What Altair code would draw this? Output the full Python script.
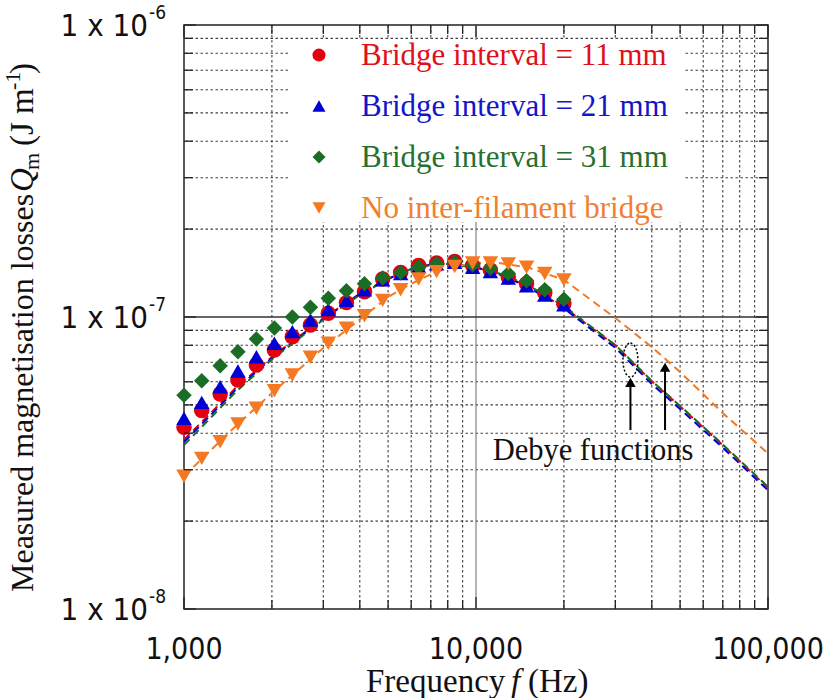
import altair as alt
import pandas as pd

# ---- measured magnetisation losses (J/m) vs frequency (Hz) ----
freq = [1000, 1150, 1330, 1530, 1770, 2040, 2350, 2710, 3120, 3600, 4150,
        4790, 5520, 6360, 7330, 8450, 9740, 11200, 12900, 14900, 17200, 20000]

q_11mm = [4.19e-8, 4.78e-8, 5.45e-8, 6.08e-8, 6.85e-8, 7.71e-8, 8.56e-8,
          9.39e-8, 1.03e-7, 1.12e-7, 1.22e-7, 1.35e-7, 1.42e-7, 1.50e-7,
          1.53e-7, 1.55e-7, 1.50e-7, 1.45e-7, 1.37e-7, 1.30e-7, 1.21e-7, 1.11e-7]
q_21mm = [4.50e-8, 5.10e-8, 5.77e-8, 6.53e-8, 7.31e-8, 8.13e-8, 8.91e-8,
          9.77e-8, 1.06e-7, 1.14e-7, 1.24e-7, 1.34e-7, 1.41e-7, 1.49e-7,
          1.52e-7, 1.54e-7, 1.48e-7, 1.43e-7, 1.36e-7, 1.28e-7, 1.19e-7, 1.10e-7]
q_31mm = [5.40e-8, 6.05e-8, 6.81e-8, 7.60e-8, 8.41e-8, 9.17e-8, 1.00e-7,
          1.08e-7, 1.16e-7, 1.23e-7, 1.30e-7, 1.36e-7, 1.42e-7, 1.48e-7,
          1.52e-7, 1.54e-7, 1.51e-7, 1.47e-7, 1.41e-7, 1.33e-7, 1.24e-7, 1.15e-7]
q_nobridge = [2.85e-8, 3.28e-8, 3.74e-8, 4.30e-8, 4.87e-8, 5.59e-8, 6.33e-8,
              7.28e-8, 8.13e-8, 9.15e-8, 1.01e-7, 1.14e-7, 1.24e-7, 1.35e-7,
              1.43e-7, 1.49e-7, 1.53e-7, 1.53e-7, 1.52e-7, 1.48e-7, 1.41e-7, 1.34e-7]

# ---- Debye function fits ----
fit_freq = [1000, 1500, 2000, 3000, 4000, 5000, 6000, 7000, 8000, 10000,
            12000, 15000, 20000, 30000, 40000, 50000, 70000, 100000]
fit_11mm = [3.80e-8, 5.70e-8, 7.30e-8, 9.90e-8, 1.20e-7, 1.35e-7, 1.46e-7,
            1.51e-7, 1.52e-7, 1.48e-7, 1.40e-7, 1.28e-7, 1.08e-7, 8.00e-8,
            6.02e-8, 4.94e-8, 3.64e-8, 2.60e-8]
fit_21mm = [3.73e-8, 5.62e-8, 7.24e-8, 9.84e-8, 1.20e-7, 1.35e-7, 1.46e-7,
            1.51e-7, 1.52e-7, 1.48e-7, 1.40e-7, 1.27e-7, 1.07e-7, 7.85e-8,
            5.90e-8, 4.84e-8, 3.57e-8, 2.55e-8]
fit_31mm = [3.64e-8, 5.52e-8, 7.16e-8, 9.78e-8, 1.19e-7, 1.35e-7, 1.46e-7,
            1.51e-7, 1.52e-7, 1.48e-7, 1.41e-7, 1.29e-7, 1.09e-7, 8.02e-8,
            6.04e-8, 4.96e-8, 3.66e-8, 2.62e-8]
fit_nobridge = [2.85e-8, 4.22e-8, 5.49e-8, 7.83e-8, 9.80e-8, 1.17e-7, 1.30e-7,
                1.40e-7, 1.47e-7, 1.53e-7, 1.53e-7, 1.48e-7, 1.34e-7, 9.92e-8,
                7.89e-8, 6.48e-8, 4.69e-8, 3.41e-8]

# ---- axes ----
x_major = [1000, 10000, 100000]
x_major_labels = ["1,000", "10,000", "100,000"]
x_minor = [2000, 3000, 4000, 5000, 6000, 7000, 8000, 9000,
           20000, 30000, 40000, 50000, 60000, 70000, 80000, 90000]
y_major = [1e-8, 1e-7, 1e-6]
y_major_exp = ["-8", "-7", "-6"]
y_minor = [2e-8, 3e-8, 4e-8, 5e-8, 6e-8, 7e-8, 8e-8, 9e-8,
           2e-7, 3e-7, 4e-7, 5e-7, 6e-7, 7e-7, 8e-7, 9e-7]

series_labels = ["Bridge interval = 11 mm", "Bridge interval = 21 mm",
                 "Bridge interval = 31 mm", "No inter-filament bridge"]
series_colors = ["#e3000f", "#0000d4", "#1b6d26", "#f47920"]
label_colors = ["#e0101a", "#1414c8", "#267030", "#f08030"]
series_shapes = ["circle", "triangle-up", "diamond", "triangle-down"]

# ---- annotation: arrows pointing at the fitted curves ----
arrow_f = [33800, 44400]
arrow_q_base = [4.10e-8, 4.10e-8]
arrow_q_head = [5.97e-8, 6.73e-8]
ring_f = [33800]
ring_q = [7.12e-8]
note_f = [25160]
note_q = [3.48e-8]
note_text = ["Debye functions"]

W = H = 584
SANS = "'Liberation Sans Narrow', 'Arial Narrow', 'DejaVu Sans Condensed', sans-serif"
SERIF = "'Liberation Serif', 'Times New Roman', serif"

xs = alt.Scale(type="log", domain=[1000, 100000], nice=False)
ys = alt.Scale(type="log", domain=[1e-8, 1e-6], nice=False)


def X(field):
    return alt.X(field, type="quantitative", scale=xs, axis=None)


def Y(field):
    return alt.Y(field, type="quantitative", scale=ys, axis=None)


def one():
    return pd.DataFrame({"k": [0]})


layers = []

# grid
layers.append(alt.Chart(pd.DataFrame({"v": x_minor})).mark_rule(
    color="#404040", strokeWidth=1.1, strokeDash=[2.5, 2.5]).encode(x=X("v")))
layers.append(alt.Chart(pd.DataFrame({"v": y_minor})).mark_rule(
    color="#404040", strokeWidth=1.1, strokeDash=[2.5, 2.5]).encode(y=Y("v")))
layers.append(alt.Chart(pd.DataFrame({"v": [10000]})).mark_rule(
    color="#8c8c8c", strokeWidth=1.3).encode(x=X("v")))
layers.append(alt.Chart(pd.DataFrame({"v": [1e-7]})).mark_rule(
    color="#333333", strokeWidth=1.3).encode(y=Y("v")))

# legend background
layers.append(alt.Chart(one()).mark_rect(fill="white").encode(
    x=alt.value(106), x2=alt.value(499), y=alt.value(15), y2=alt.value(197)))

# fitted Debye curves
fits = [fit_11mm, fit_21mm, fit_31mm, fit_nobridge]
for vals, col in zip(fits, series_colors):
    df = pd.DataFrame({"f": fit_freq, "q": vals})
    layers.append(alt.Chart(df).mark_line(
        color=col, strokeWidth=2, strokeDash=[8, 5]).encode(x=X("f"), y=Y("q")))

# measured points
meas = [q_11mm, q_21mm, q_31mm, q_nobridge]
for vals, col, shp in zip(meas, series_colors, series_shapes):
    df = pd.DataFrame({"f": freq, "q": vals})
    layers.append(alt.Chart(df).mark_point(
        shape=shp, filled=True, size=240, color=col, opacity=1, strokeWidth=0
    ).encode(x=X("f"), y=Y("q")))

# inward ticks on all four sides
for vals, L in [(x_major, 12), (x_minor, 9)]:
    d = pd.DataFrame({"v": vals})
    layers.append(alt.Chart(d).mark_rule(color="#222", strokeWidth=1.3).encode(
        x=X("v"), y=alt.value(0), y2=alt.value(L)))
    layers.append(alt.Chart(d).mark_rule(color="#222", strokeWidth=1.3).encode(
        x=X("v"), y=alt.value(H - L), y2=alt.value(H)))
for vals, L in [(y_major, 12), (y_minor, 9)]:
    d = pd.DataFrame({"v": vals})
    layers.append(alt.Chart(d).mark_rule(color="#222", strokeWidth=1.3).encode(
        y=Y("v"), x=alt.value(0), x2=alt.value(L)))
    layers.append(alt.Chart(d).mark_rule(color="#222", strokeWidth=1.3).encode(
        y=Y("v"), x=alt.value(W - L), x2=alt.value(W)))

# tick labels
xl = pd.DataFrame({"v": x_major, "t": x_major_labels})
layers.append(alt.Chart(xl).mark_text(
    font=SANS, fontSize=30, color="#111", baseline="alphabetic", align="center"
).encode(x=X("v"), y=alt.value(H + 50), text="t:N"))
yl = pd.DataFrame({"v": y_major, "e": y_major_exp})
layers.append(alt.Chart(yl).mark_text(
    font=SANS, fontSize=31, color="#111", baseline="middle", align="right", dy=2
).encode(y=Y("v"), x=alt.value(-36), text=alt.value("1 x 10")))
layers.append(alt.Chart(yl).mark_text(
    font=SANS, fontSize=19, color="#111", baseline="middle", align="left", dy=-12
).encode(y=Y("v"), x=alt.value(-35), text="e:N"))

# annotation
ar = pd.DataFrame({"f": arrow_f, "q0": arrow_q_base, "q1": arrow_q_head})
layers.append(alt.Chart(ar).mark_rule(color="black", strokeWidth=2).encode(
    x=X("f"), y=Y("q0"), y2=alt.Y2("q1")))
layers.append(alt.Chart(ar).mark_point(
    shape="triangle-up", filled=True, size=110, color="black", opacity=1, strokeWidth=0
).encode(x=X("f"), y=Y("q1")))
ellipse = ("M0,-1 C0.243,-1 0.44,-0.552 0.44,0 C0.44,0.552 0.243,1 0,1 "
           "C-0.243,1 -0.44,0.552 -0.44,0 C-0.44,-0.552 -0.243,-1 0,-1 Z")
layers.append(alt.Chart(pd.DataFrame({"f": ring_f, "q": ring_q})).mark_point(
    shape=ellipse, filled=False, size=1156, color="black", strokeWidth=1.5,
    strokeDash=[2, 2], opacity=1).encode(x=X("f"), y=Y("q")))
layers.append(alt.Chart(pd.DataFrame({"f": note_f, "q": note_q, "t": note_text})).mark_text(
    font=SERIF, fontSize=30.5, color="#111", align="center", baseline="middle"
).encode(x=X("f"), y=Y("q"), text="t:N"))

# legend entries
for i, (lab, col, tcol, shp) in enumerate(zip(series_labels, series_colors,
                                               label_colors, series_shapes)):
    yy = 30 + 51 * i
    layers.append(alt.Chart(one()).mark_point(
        shape=shp, filled=True, size=170, color=col, opacity=1, strokeWidth=0
    ).encode(x=alt.value(135), y=alt.value(yy)))
    layers.append(alt.Chart(one()).mark_text(
        font=SERIF, fontSize=31, color=tcol, align="left", baseline="middle"
    ).encode(x=alt.value(177), y=alt.value(yy + 1), text=alt.value(lab)))

# x-axis title: Frequency f (Hz)
for txt, px, style in [("Frequency", 182, "normal"), ("f", 327, "italic"),
                       ("(Hz)", 344, "normal")]:
    layers.append(alt.Chart(one()).mark_text(
        font=SERIF, fontSize=33, color="#111", align="left", baseline="alphabetic",
        fontStyle=style
    ).encode(x=alt.value(px), y=alt.value(667), text=alt.value(txt)))

# y-axis title: Measured magnetisation losses Q_m (J m^-1)
ytitle = [("Measured magnetisation losses", -151, 567, 32, "normal"),
          ("Q", -151, 167, 33, "italic"),
          ("m", -145, 145, 22, "normal"),
          ("(J m", -151, 121, 33, "normal"),
          ("-1", -164, 65, 22, "normal"),
          (")", -151, 49, 33, "normal")]
for txt, px, py, fs, style in ytitle:
    layers.append(alt.Chart(one()).mark_text(
        font=SERIF, fontSize=fs, color="#111", align="left", baseline="alphabetic",
        angle=270, fontStyle=style
    ).encode(x=alt.value(px), y=alt.value(py), text=alt.value(txt)))

chart = alt.layer(*layers).properties(
    width=W, height=H,
    padding={"left": 184, "top": 25, "right": 57, "bottom": 89},
    autosize=alt.AutoSizeParams(type="none"),
    background="white",
).configure_view(stroke="#222", strokeWidth=1.5)

chart.save("out.html", embed_options={"renderer": "svg", "actions": False})
